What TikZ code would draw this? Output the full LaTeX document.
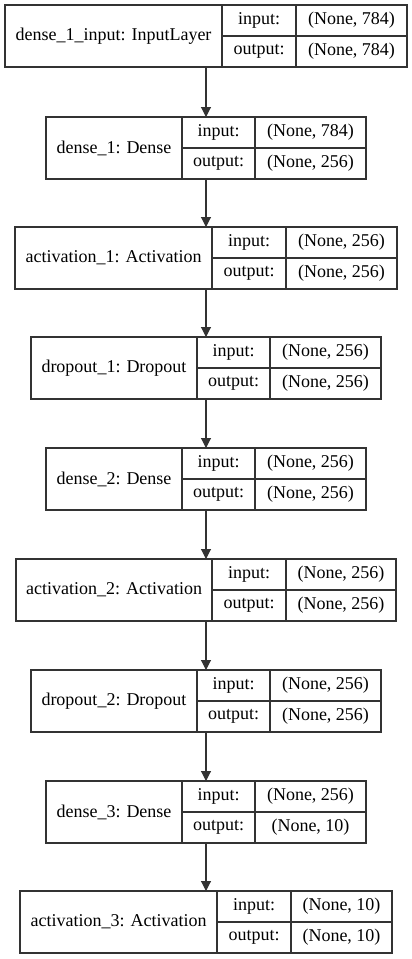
\documentclass[tikz,border=0pt]{standalone}
\usepackage{fontspec}
\setmainfont{Liberation Serif}
\usetikzlibrary{arrows.meta}

\begin{document}
\begin{tikzpicture}[
    x=1pt, y=-1pt,
    font=\fontsize{18}{20}\selectfont,
    frame/.style={
        draw=black!80,
        line width=1.1pt,
        inner sep=0pt,
        outer sep=0pt,
        anchor=north west,
        minimum height=62pt
    },
    cell/.style={frame, minimum height=31pt},
    namecell/.style={frame},
    arrow/.style={-{Triangle[length=10pt,width=10pt]}, line width=1.1pt, draw=black!80}
]
\useasboundingbox (0,0) rectangle (412,959);

% ============================================================
% WARSTWY: nr / nazwa / lewa / podzial 1 / podzial 2 / prawa / gora / wejscie / wyjscie
% ============================================================
\foreach \i/\name/\l/\da/\db/\r/\t/\vin/\vout in {
    1/dense\_1\_input: InputLayer/5/222/296/407/5/784/784,
    2/dense\_1: Dense/46/182/255/366/117/784/256,
    3/activation\_1: Activation/15/212/286/397/227/256/256,
    4/dropout\_1: Dropout/31/197/270/381/337/256/256,
    5/dense\_2: Dense/46/182/255/366/448/256/256,
    6/activation\_2: Activation/16/212/286/396/559/256/256,
    7/dropout\_2: Dropout/31/197/270/381/670/256/256,
    8/dense\_3: Dense/46/182/255/366/781/256/10,
    9/activation\_3: Activation/20/217/291/392/891/10/10}
{
    \node[frame, minimum width={(\r-\l)*1pt}] (L\i) at (\l,\t) {};
    \node[namecell, minimum width={(\da-\l)*1pt}] (L\i name) at (\l,\t) {\name};
    \node[cell, minimum width={(\db-\da)*1pt}] (L\i in) at (\da,\t) {input:};
    \node[cell, minimum width={(\db-\da)*1pt}] (L\i out) at (\da,\t+31) {output:};
    \node[cell, minimum width={(\r-\db)*1pt}] (L\i inval) at (\db,\t) {(None, \vin)};
    \node[cell, minimum width={(\r-\db)*1pt}] (L\i outval) at (\db,\t+31) {(None, \vout)};
}

% ============================================================
% POLACZENIA
% ============================================================
\foreach \i [evaluate=\i as \j using int(\i+1)] in {1,...,8}
    \draw[arrow] (L\i.south) -- (L\j.north);

\end{tikzpicture}
\end{document}
